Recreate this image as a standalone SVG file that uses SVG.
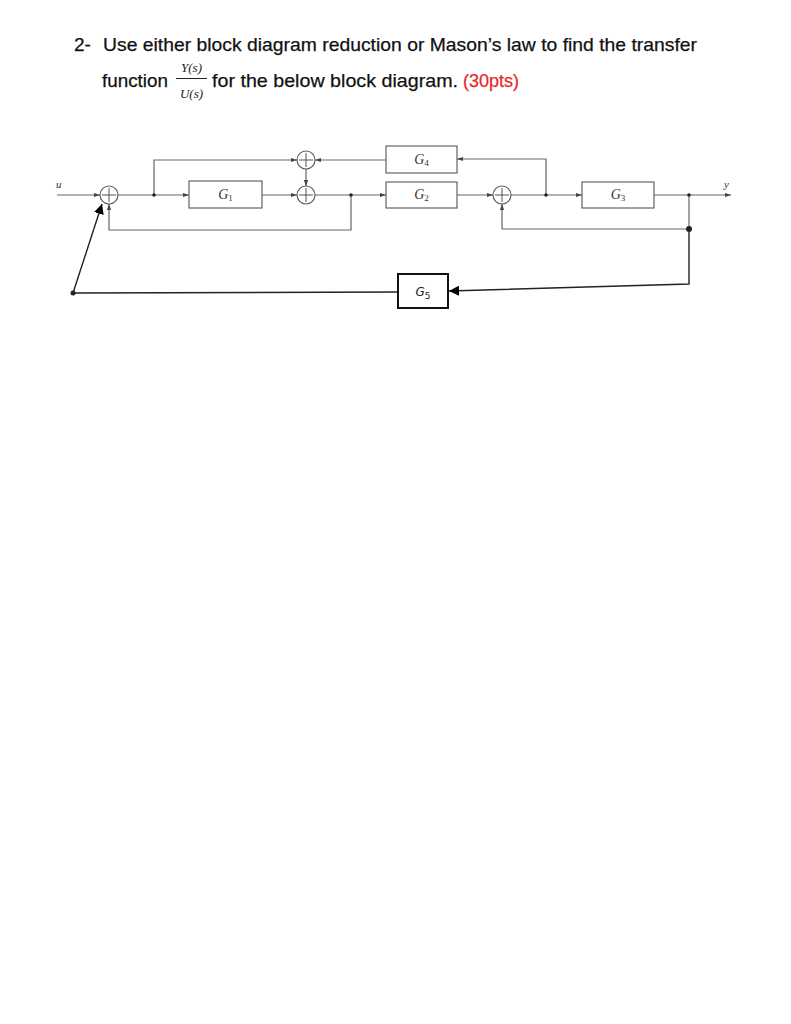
<svg xmlns="http://www.w3.org/2000/svg" width="791" height="1024" viewBox="0 0 791 1024">
<style>
.t{font-family:"Liberation Sans",Arial,sans-serif;font-size:19px;fill:#111;stroke:#111;stroke-width:0.25}
.f{font-family:"Liberation Serif","Times New Roman",serif;font-style:italic;font-size:13px;fill:#222}
.ln{fill:none;stroke:#666;stroke-width:1.2}
.bk{fill:none;stroke:#222;stroke-width:1.4}
.box{fill:#fff;stroke:#555;stroke-width:1.1}
.sum{fill:#fff;stroke:#555;stroke-width:1.1}
.lbl{font-family:"Liberation Serif","Times New Roman",serif;font-style:italic;font-size:14px;fill:#333}
.dot{fill:#222}
</style>
<defs>
<marker id="a" viewBox="0 0 10 10" refX="10" refY="5" markerWidth="6" markerHeight="6" orient="auto" markerUnits="userSpaceOnUse"><path d="M0,1.5L10,5L0,8.5z" fill="#444"/></marker>
<marker id="b" viewBox="0 0 10 10" refX="10" refY="5" markerWidth="10" markerHeight="10" orient="auto" markerUnits="userSpaceOnUse"><path d="M0,0L10,5L0,10z" fill="#000"/></marker>
<g id="plus"><circle r="9" class="sum"/><path d="M-7,0H7M0,-7V7" stroke="#555" stroke-width="1"/></g>
</defs>
<rect width="791" height="1024" fill="#fff"/>

<g id="title">
<text class="t" x="74" y="51">2-</text>
<text class="t" x="103" y="51" textLength="594" lengthAdjust="spacingAndGlyphs">Use either block diagram reduction or Mason’s law to find the transfer</text>
<text class="t" x="102" y="87" textLength="66" lengthAdjust="spacingAndGlyphs">function</text>
<text class="f" x="191.5" y="72" text-anchor="middle">Y(s)</text>
<line x1="176" y1="78.5" x2="207" y2="78.5" stroke="#222" stroke-width="1"/>
<text class="f" x="191.5" y="98" text-anchor="middle">U(s)</text>
<text class="t" x="212" y="87" textLength="246" lengthAdjust="spacingAndGlyphs">for the below block diagram.</text>
<text class="t" x="463" y="87" textLength="56" lengthAdjust="spacingAndGlyphs" style="fill:#e8262a;stroke:#e8262a">(30pts)</text>
</g>

<g id="connectors">
<path class="ln" d="M57,195H100" marker-end="url(#a)"/>
<path class="ln" d="M118,195H189" marker-end="url(#a)"/>
<path class="ln" d="M154,195V160H297" marker-end="url(#a)"/>
<path class="ln" d="M262,195H297" marker-end="url(#a)"/>
<path class="ln" d="M306,169V186" marker-end="url(#a)"/>
<path class="ln" d="M386,160H315" marker-end="url(#a)"/>
<path class="ln" d="M315,195H386" marker-end="url(#a)"/>
<path class="ln" d="M351,195V230H109V204" marker-end="url(#a)"/>
<path class="ln" d="M457,195H493" marker-end="url(#a)"/>
<path class="ln" d="M511,195H582" marker-end="url(#a)"/>
<path class="ln" d="M546,195V159H457" marker-end="url(#a)"/>
<path class="ln" d="M654,195H731" marker-end="url(#a)"/>
<path class="ln" d="M689,195V229H502V204" marker-end="url(#a)"/>
<path class="bk" d="M689,229V284L449,291" marker-end="url(#b)"/>
<path class="bk" d="M398,292L73,293"/>
<path class="bk" d="M73,293L102,204" marker-end="url(#b)" stroke-width="1"/>
<circle class="dot" cx="154" cy="195" r="1.8"/>
<circle class="dot" cx="351" cy="195" r="1.8"/>
<circle class="dot" cx="546" cy="195" r="1.8"/>
<circle class="dot" cx="689" cy="195" r="1.8"/>
<circle class="dot" cx="689" cy="229" r="3"/>
<circle class="dot" cx="73" cy="293" r="2.5"/>
</g>

<text class="lbl" x="56" y="188" style="font-size:11px">u</text>
<text class="lbl" x="724" y="188" style="font-size:11px">y</text>

<g id="sum1"><use href="#plus" x="109" y="195"/></g>
<g id="sum2"><use href="#plus" x="306" y="160"/></g>
<g id="sum3"><use href="#plus" x="306" y="195"/></g>
<g id="sum4"><use href="#plus" x="502" y="195"/></g>

<g id="G1"><rect class="box" x="189" y="181" width="73" height="27"/><text class="lbl" x="225.5" y="199" text-anchor="middle">G<tspan font-size="9" dy="2" font-style="normal">1</tspan></text></g>
<g id="G4"><rect class="box" x="386" y="146" width="71" height="27"/><text class="lbl" x="421.5" y="164" text-anchor="middle">G<tspan font-size="9" dy="2" font-style="normal">4</tspan></text></g>
<g id="G2"><rect class="box" x="386" y="182" width="71" height="26"/><text class="lbl" x="421.5" y="199" text-anchor="middle">G<tspan font-size="9" dy="2" font-style="normal">2</tspan></text></g>
<g id="G3"><rect class="box" x="582" y="182" width="72" height="26"/><text class="lbl" x="618" y="199" text-anchor="middle">G<tspan font-size="9" dy="2" font-style="normal">3</tspan></text></g>
<g id="G5"><rect x="398" y="274" width="50" height="34" fill="#fff" stroke="#111" stroke-width="2"/><text class="lbl" x="423" y="296" text-anchor="middle" style="font-family:'DejaVu Sans',sans-serif;font-size:12px;fill:#222">G<tspan font-size="9" dy="3" font-style="normal">5</tspan></text></g>
</svg>
